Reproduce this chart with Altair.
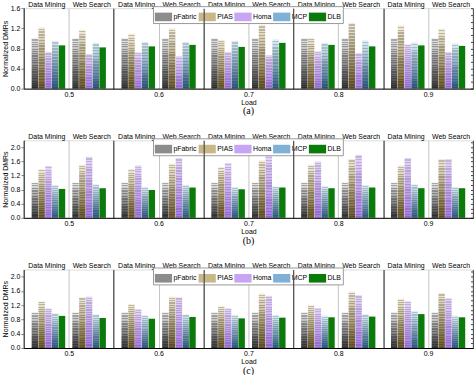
import altair as alt
import pandas as pd

loads = ["0.5", "0.6", "0.7", "0.8", "0.9"]
workloads = ["Data Mining", "Web Search"]
schemes = ["pFabric", "PIAS", "Homa", "MCP", "DLB"]

# order of values: 0.5 DM, 0.5 WS, 0.6 DM, 0.6 WS, ... 0.9 WS
a_pfabric = [1.00, 1.00, 1.00, 1.00, 1.00, 1.00, 1.00, 1.00, 1.00, 1.00]
a_pias = [1.22, 1.17, 1.09, 1.20, 0.97, 1.27, 1.01, 1.31, 1.26, 1.19]
a_homa = [0.73, 0.69, 0.72, 0.65, 0.73, 0.67, 0.74, 0.71, 0.88, 0.73]
a_mcp = [0.95, 0.91, 0.93, 0.93, 0.95, 0.98, 0.91, 0.96, 0.92, 0.90]
a_dlb = [0.86, 0.82, 0.84, 0.87, 0.83, 0.91, 0.87, 0.84, 0.86, 0.85]

b_pfabric = [1.00, 1.00, 1.00, 1.00, 1.00, 1.00, 1.00, 1.00, 1.00, 1.00]
b_pias = [1.38, 1.51, 1.38, 1.54, 1.44, 1.63, 1.51, 1.67, 1.49, 1.67]
b_homa = [1.47, 1.73, 1.49, 1.70, 1.56, 1.77, 1.60, 1.79, 1.70, 1.67]
b_mcp = [0.93, 0.95, 0.88, 0.94, 0.88, 0.89, 0.90, 0.93, 0.95, 0.88]
b_dlb = [0.82, 0.84, 0.79, 0.86, 0.81, 0.86, 0.84, 0.86, 0.84, 0.84]

c_pfabric = [1.00, 1.00, 1.00, 1.00, 1.00, 1.00, 1.00, 1.00, 1.00, 1.00]
c_pias = [1.31, 1.42, 1.23, 1.44, 1.17, 1.53, 1.20, 1.58, 1.38, 1.54]
c_homa = [1.11, 1.44, 1.09, 1.42, 1.11, 1.46, 1.12, 1.48, 1.31, 1.40]
c_mcp = [0.97, 0.94, 0.92, 0.94, 0.93, 0.93, 0.91, 0.94, 1.04, 0.91]
c_dlb = [0.90, 0.84, 0.82, 0.87, 0.83, 0.85, 0.86, 0.88, 0.95, 0.86]

panel_a = dict(zip(schemes, [a_pfabric, a_pias, a_homa, a_mcp, a_dlb]))
panel_b = dict(zip(schemes, [b_pfabric, b_pias, b_homa, b_mcp, b_dlb]))
panel_c = dict(zip(schemes, [c_pfabric, c_pias, c_homa, c_mcp, c_dlb]))

keys = [f"{l}|{w}" for l in loads for w in workloads]
slot_domain = (["pad0"] + [f"Data Mining|{s}" for s in schemes] + ["gap"]
               + [f"Web Search|{s}" for s in schemes] + ["pad1"])


def make_df(panel):
    rows = []
    for s in schemes:
        for i, v in enumerate(panel[s]):
            l = loads[i // 2]
            w = workloads[i % 2]
            rows.append(dict(scheme=s, load=l, workload=w, value=v,
                             key=f"{l}|{w}", slot=f"{w}|{s}"))
    return pd.DataFrame(rows)


# ---- styling helpers (textures) ----
def h2r(h):
    h = h.lstrip("#")
    return [int(h[i:i + 2], 16) for i in (0, 2, 4)]


def r2h(r):
    return "#" + "".join(f"{max(0, min(255, int(round(x)))):02x}" for x in r)


def mix(c1, c2, t):
    a, b = h2r(c1), h2r(c2)
    return r2h([a[i] + (b[i] - a[i]) * t for i in range(3)])


def striped(top, bottom, n, dark, frac=0.5):
    stops = []
    for i in range(n):
        t0, tm, t1 = i / n, (i + frac) / n, (i + 1) / n
        c = mix(top, bottom, (i + 0.5) / n)
        cd = mix(c, "#000000", dark)
        stops += [(t0, c), (tm, c), (tm, cd), (t1, cd)]
    return {"gradient": "linear", "x1": 0, "y1": 0, "x2": 0, "y2": 1,
            "stops": [{"offset": round(o, 4), "color": col} for o, col in stops]}


FILLS = {
    "pFabric": striped("#ececec", "#3a3a3a", 22, 0.28),
    "PIAS": striped("#f6efda", "#6f5a28", 22, 0.22),
    "Homa": striped("#e8d8fc", "#a67be8", 22, 0.16),
    "MCP": striped("#e0f3fd", "#2f5f88", 16, 0.18),
    "DLB": "#0a7a0a",
}
legend_colors = ["#8c8c8c", "#c9b78a", "#c6a6f2", "#7fb1d6", "#0a7a0a"]

W = 452
FONT = "Liberation Sans"
FS = 7


def panel_chart(panel, ymax, h, caption, major, minor):
    df = make_df(panel)
    yscale = alt.Scale(domain=[0, ymax], nice=False, zero=True)
    base = alt.Chart(df)

    fill_def = alt.FillValue(
        value=FILLS["DLB"],
        condition=[{"test": f"datum.scheme === '{s}'", "value": FILLS[s]} for s in schemes[:-1]],
    )
    bars = base.mark_bar(strokeWidth=0).encode(
        x=alt.X("load:N", sort=loads,
                scale=alt.Scale(domain=loads, paddingInner=0, paddingOuter=0),
                axis=alt.Axis(orient="bottom", title="Load", titlePadding=1, labelPadding=2,
                              ticks=False, domain=True, domainColor="black", labelAngle=0,
                              labelFontSize=FS, titleFontSize=FS, titleFontWeight="normal",
                              grid=True, gridColor="#555555", gridWidth=1.3,
                              tickBand="extent", zindex=1)),
        xOffset=alt.XOffset("slot:N",
                            scale=alt.Scale(domain=slot_domain, paddingInner=0.05,
                                            paddingOuter=0.15)),
        y=alt.Y("value:Q", scale=yscale, stack=None,
                axis=alt.Axis(orient="left", title="Normalized DMRs", titlePadding=2,
                              values=major, format=".1f", tickSize=3, labelPadding=1,
                              labelFontSize=FS, titleFontSize=FS, titleFontWeight="normal",
                              grid=False, domain=True, domainColor="black")),
        fill=fill_def,
    )

    key_layer = base.mark_bar(opacity=0).encode(
        x=alt.X("key:N", sort=keys,
                scale=alt.Scale(domain=keys, paddingInner=0, paddingOuter=0),
                axis=alt.Axis(orient="top", title=None,
                              labelExpr="split(datum.value, '|')[1]",
                              ticks=False, domain=False, labelPadding=1, labelAngle=0,
                              labelFontSize=FS,
                              grid=True, gridColor="#c4c4c4", gridWidth=1,
                              tickBand="extent")),
        y=alt.Y("value:Q", scale=yscale, stack=None,
                axis=alt.Axis(orient="left", offset=-W, labels=False, title=None,
                              domain=False, grid=False, ticks=True, tickSize=2.5,
                              values=minor, tickColor="#444444")),
        color=alt.Color("scheme:N", scale=alt.Scale(domain=schemes, range=legend_colors),
                        legend=alt.Legend(orient="none", legendX=130, legendY=-2,
                                          direction="horizontal", title=None,
                                          symbolType="M-1,-0.5H1V0.5H-1Z", symbolSize=300,
                                          symbolStrokeWidth=0, symbolOpacity=1,
                                          labelFontSize=FS, labelFont=FONT, labelOffset=1,
                                          columnPadding=1, padding=1.5,
                                          fillColor="white", strokeColor="#999999")),
    )
    return alt.layer(bars, key_layer).resolve_scale(x="independent").resolve_axis(
        y="independent").properties(
        width=W, height=h,
        title=alt.TitleParams(caption, orient="bottom", font="Liberation Serif", fontSize=10,
                              fontWeight="normal", offset=1, anchor="middle", frame="group",
                              color="black"),
    )


major_a = [0.0, 0.4, 0.8, 1.2, 1.6]
major_bc = [0.0, 0.4, 0.8, 1.2, 1.6, 2.0]
minor_a = [round(i * 0.4 / 3, 4) for i in range(0, 13)]
minor_bc = [round(i * 0.4 / 3, 4) for i in range(0, 17)]

pa = panel_chart(panel_a, 1.6, 81, "(a)", major_a, minor_a)
pb = panel_chart(panel_b, 2.2, 78, "(b)", major_bc, minor_bc)
pc = panel_chart(panel_c, 2.2, 79, "(c)", major_bc, minor_bc)

chart = alt.vconcat(pa, pb, pc, spacing=14).resolve_scale(
    color="independent").resolve_legend(color="independent").properties(
    padding={"left": 0, "top": -2, "right": 0, "bottom": 0}
).configure_axis(
    labelFont=FONT, titleFont=FONT, labelFontSize=FS, titleFontSize=FS,
    titleFontWeight="normal", labelColor="black", titleColor="black",
    domainColor="black", tickColor="black"
).configure_view(strokeWidth=0).configure(background="white")

chart.save("out.html", embed_options={"renderer": "svg", "actions": False})
